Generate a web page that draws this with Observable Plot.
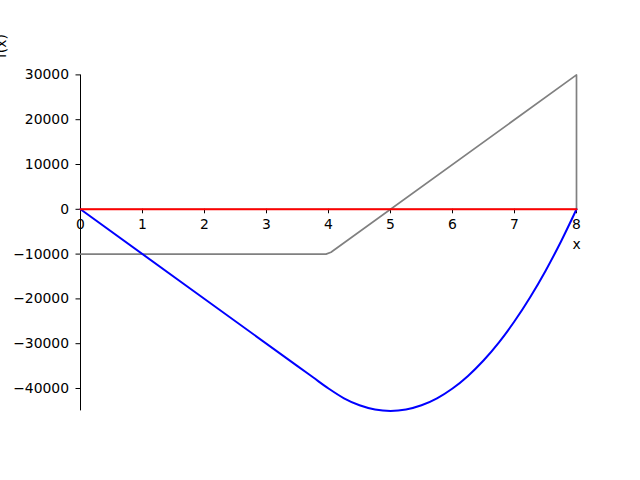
<!DOCTYPE html>
<html>
<head>
<meta charset="utf-8">
<script src="https://cdn.jsdelivr.net/npm/d3@7"></script>
<script src="https://cdn.jsdelivr.net/npm/@observablehq/plot@0.6"></script>
<style>
  html, body { margin: 0; padding: 0; background: white; }
</style>
</head>
<body>
<div id="chart"></div>
<script>
// Tick values
const xTicks = [0, 1, 2, 3, 4, 5, 6, 7, 8];
const yTicks = [-40000, -30000, -20000, -10000, 0, 10000, 20000, 30000];

// Grey series (shear)
const shearX = [0, 3.96, 4.04, 8, 8];
const shearY = [-10000, -10000, -9600, 30000, 0];

// Blue series (moment)
const momentX = [0, 3.5, 3.75, 4, 4.25, 4.5, 4.75, 5, 5.25, 5.5, 5.75, 6, 6.25, 6.5, 6.75, 7, 7.25, 7.5, 7.75, 8];
const momentY = [0, -35000, -37500, -40000, -42187.5, -43750, -44687.5, -45000, -44687.5, -43750, -42187.5, -40000,
                 -37187.5, -33750, -29687.5, -25000, -19687.5, -13750, -7187.5, 0];

// Red series (zero load)
const zeroX = [0, 8];
const zeroY = [0, 0];

const yLabel = "f(x)";
const xLabel = "x";

const W = 640, H = 480;
const mL = 80, mR = 64, mT = 57.6, mB = 52.8;
const xDomain = [0, 8];
const yDomain = [-48750, 33750];

const toRows = (xs, ys) => xs.map((x, i) => ({x, y: ys[i]}));
const shear = toRows(shearX, shearY);
const moment = toRows(momentX, momentY);
const zero = toRows(zeroX, zeroY);

const yPix = d3.scaleLinear().domain(yDomain).range([H - mB, mT]);
const axisShift = yPix(0) - (H - mB);
const fmt = d => String(d).replace("-", "\u2212");

const chart = Plot.plot({
  width: W,
  height: H,
  marginLeft: mL,
  marginRight: mR,
  marginTop: mT,
  marginBottom: mB,
  x: {domain: xDomain},
  y: {domain: yDomain},
  style: {fontFamily: "DejaVu Sans", fontSize: "13.9px", background: "white", color: "black", overflow: "hidden"},
  marks: [
    Plot.ruleX([0], {y1: yTicks[0] - 5000, y2: yTicks[yTicks.length - 1], stroke: "black", strokeWidth: 1}),
    Plot.ruleY([0], {x1: xDomain[0], x2: xDomain[1], stroke: "black", strokeWidth: 1}),
    Plot.axisY(yTicks, {anchor: "left", tickSize: 4.5, tickPadding: 7, tickFormat: fmt, label: null, fontSize: 13.9}),
    Plot.axisX(xTicks, {anchor: "bottom", dy: axisShift, tickSize: 4.5, tickPadding: 5, tickFormat: d => String(d), label: null, fontSize: 13.9}),
    Plot.line(shear, {x: "x", y: "y", stroke: "grey", strokeWidth: 1.7}),
    Plot.line(moment, {x: "x", y: "y", stroke: "blue", strokeWidth: 2, curve: "catmull-rom"}),
    Plot.line(zero, {x: "x", y: "y", stroke: "red", strokeWidth: 2}),
    Plot.text([xLabel], {x: xDomain[1], y: 0, dy: 35, text: d => d, fontSize: 13.9, fill: "black"}),
    Plot.text([yLabel], {frameAnchor: "top-left", dx: -84, rotate: -90, text: d => d, fontSize: 13.9, fill: "black"})
  ]
});
document.getElementById("chart").appendChild(chart);
</script>
</body>
</html>
